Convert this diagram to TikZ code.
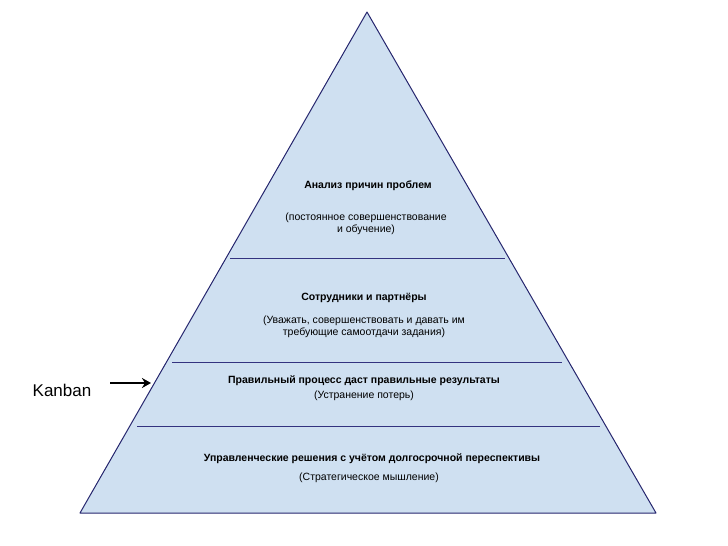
\documentclass[tikz,border=0pt]{standalone}
\usepackage{fontspec}
\setmainfont{Liberation Sans}
\usetikzlibrary{arrows.meta}
\begin{document}
\begin{tikzpicture}[x=1pt,y=-1pt,
  edge/.style={draw=black!60!blue!70!gray, line width=1pt},
  divline/.style={draw=black!50!blue!60!gray, line width=1pt},
  tb/.style={font=\fontsize{10.5}{12}\selectfont\bfseries, inner sep=0pt},
  tn/.style={font=\fontsize{10.5}{12}\selectfont, inner sep=0pt, align=center}]
\useasboundingbox (0,0) rectangle (728,546);
\definecolor{pfill}{HTML}{CFE0F1}
\coordinate (A) at (367,12);
\coordinate (L) at (80,513);
\coordinate (R) at (656,513);
\fill[pfill] (A) -- (L) -- (R) -- cycle;
\draw[divline] (230,258) -- (505,258);
\draw[divline] (172,362) -- (562,362);
\draw[divline] (137,426) -- (600,426);
\draw[edge, line join=round] (A) -- (L) -- (R) -- cycle;
\node[tb] (t1) at (368,186) {Анализ причин проблем};
\node[tn] (s1) at (366,224) {(постоянное совершенствование\\и обучение)};
\node[tb] (t2) at (364,298) {Сотрудники и партнёры};
\node[tn] (s2) at (364,327) {(Уважать, совершенствовать и давать им\\требующие самоотдачи задания)};
\node[tb] (t3) at (364,381) {Правильный процесс даст правильные результаты};
\node[tn] (s3) at (364,396) {(Устранение потерь)};
\node[tb] (t4) at (372,459) {Управленческие решения с учётом долгосрочной переспективы};
\node[tn] (s4) at (369,478) {(Стратегическое мышление)};
\node[font=\fontsize{17}{20}\selectfont, inner sep=0pt] (k) at (62,390) {Kanban};
\coordinate (ke) at (151,383);
\draw[line width=2.5pt, -{Stealth[length=9pt,width=10pt]}] (110,383) -- (ke);
\end{tikzpicture}
\end{document}
